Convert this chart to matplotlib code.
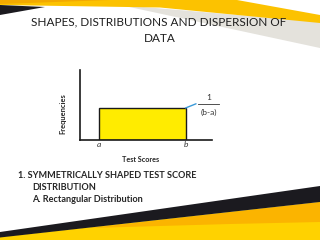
import matplotlib
matplotlib.use("Agg")
import matplotlib.pyplot as plt
from matplotlib.patches import Polygon

# rectangular distribution: a, b and the density 1/(b-a)
a = 1.0
b = 5.6
density = 1 / (b - a)
tick_labels = ['a', 'b']

title = ["SHAPES, DISTRIBUTIONS AND DISPERSION OF", "DATA"]
lines = ["1. SYMMETRICALLY SHAPED TEST SCORE", "DISTRIBUTION", "A. Rectangular Distribution"]

plt.rcParams['font.family'] = ['Lato', 'DejaVu Sans']

fig = plt.figure(figsize=(3.2, 2.4), dpi=100)
fig.patch.set_facecolor('white')

# background in pixel coords
bg = fig.add_axes([0, 0, 1, 1])
bg.set_xlim(0, 320)
bg.set_ylim(240, 0)
bg.axis('off')

def poly(pts, color, z=1):
  bg.add_patch(Polygon(pts, closed=True, facecolor=color, edgecolor='none', zorder=z))

# top swoosh
poly([(120, 5), (320, 22), (320, 48)], '#e4e2dc')
poly([(0, 0), (237, 0), (320, 15), (320, 23), (160, 7.5), (0, 5)], '#fcc200', 2)
poly([(0, 0), (110, 0), (0, 4)], '#f2a900', 3)
poly([(0, 5), (45, 7), (0, 15)], '#1b1a1f', 3)

# bottom swoosh
poly([(0, 237), (320, 202), (320, 240), (0, 240)], '#ffd200', 1)
poly([(90, 228), (320, 202), (320, 222), (230, 224)], '#fbb400', 2)
poly([(0, 232), (320, 186), (320, 202), (0, 237.5)], '#1b1a1f', 3)

bg.text(159, 22, title[0], ha='center', va='center', fontsize=8.5, color='#1e1e1e', zorder=5)
bg.text(160, 38, title[1], ha='center', va='center', fontsize=8.5, color='#1e1e1e', zorder=5)

bg.text(18, 175, lines[0], ha='left', va='center', fontsize=6.6, fontweight='bold', color='#262626', zorder=5)
bg.text(32, 187, lines[1], ha='left', va='center', fontsize=6.6, fontweight='bold', color='#262626', zorder=5)
bg.text(32, 199, lines[2], ha='left', va='center', fontsize=6.6, fontweight='bold', color='#262626', zorder=5)

# fraction label 1/(b-a)
bg.text(209, 98, '1', ha='center', va='center', fontsize=6, color='#333333', zorder=5)
bg.plot([198, 219], [104, 104], color='#333333', lw=0.6, zorder=5)
bg.text(209, 112, '(b-a)', ha='center', va='center', fontsize=6, color='#333333', zorder=5)

# the chart
ax = fig.add_axes([80/320, 1 - 140/240, 132/320, 70/240])
ax.patch.set_alpha(0)
ax.bar(a, density, width=b - a, align='edge', color='#ffec00', edgecolor='#1a1a1a', linewidth=1.0)
ax.set_xlim(0, 7)
ax.set_ylim(0, 0.475)
for s in ['top', 'right']:
  ax.spines[s].set_visible(False)
for s in ['left', 'bottom']:
  ax.spines[s].set_linewidth(1.2)
  ax.spines[s].set_color('#1a1a1a')
ax.set_yticks([])
ax.set_xticks([a, b])
ax.set_xticklabels(tick_labels, fontstyle='italic', fontsize=6, color='#333333')
ax.tick_params(axis='x', length=0, pad=1)
ax.set_xlabel('Test Scores', fontsize=5.2, fontweight='bold', color='#262626')
ax.set_ylabel('Frequencies', fontsize=5.4, fontweight='bold', color='#262626')
ax.xaxis.set_label_coords(0.46, -0.23)
ax.yaxis.set_label_coords(-0.105, 0.37)

ax.annotate('', xy=(b, density), xytext=(7.5, 3), textcoords='offset points',
            arrowprops=dict(arrowstyle='-', color='#3a9ad9', lw=1.0, shrinkA=0, shrinkB=0))

fig.savefig('out.png', dpi=100)
